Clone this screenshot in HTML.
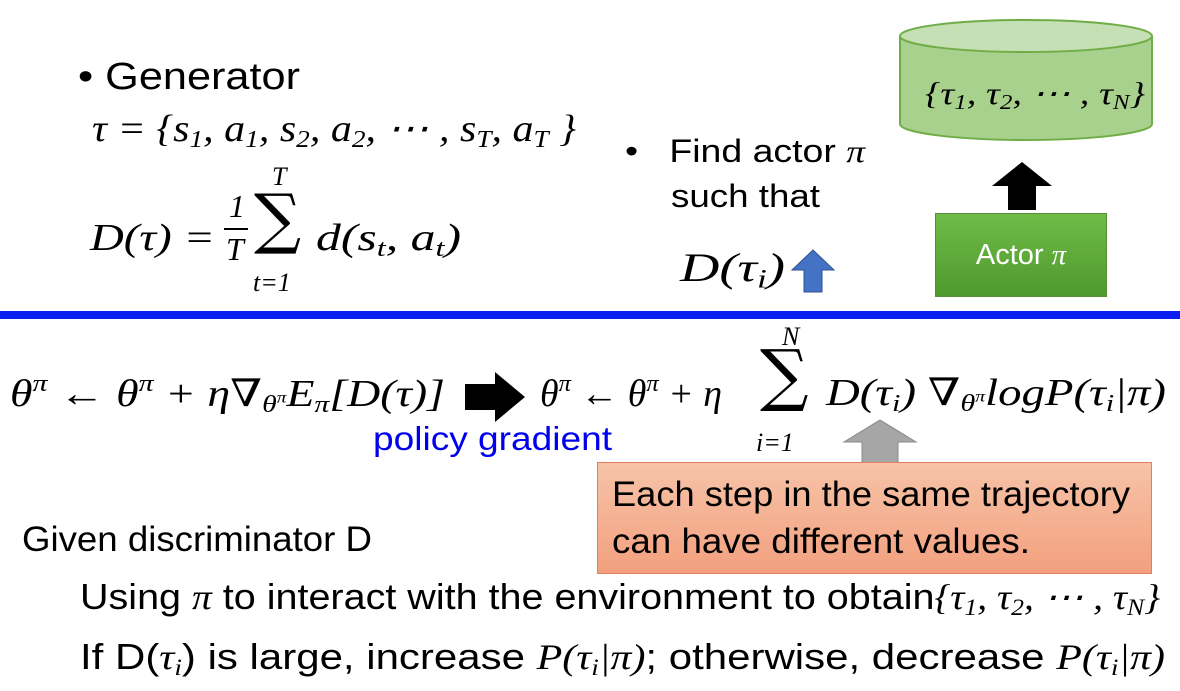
<!DOCTYPE html>
<html><head><meta charset="utf-8"><style>
body{margin:0;width:1180px;height:691px;background:#fff;position:relative;overflow:hidden;font-family:"Liberation Sans",sans-serif;}
.a{position:absolute;white-space:nowrap;transform-origin:0 0;}
.m{font-family:"Liberation Serif","DejaVu Serif",serif;font-style:italic;}
.s{font-family:"Liberation Sans",sans-serif;}
sub{font-size:65%;vertical-align:-0.25em;}
sup{font-size:65%;vertical-align:0.6em;}
</style></head><body>
<div class="a s fit" style="left:78px;top:56px;font-size:38px;--w:222;">• Generator</div>
<div class="a m fit" style="left:92px;top:106px;font-size:38px;--w:484;">τ = {s<sub>1</sub>, a<sub>1</sub>, s<sub>2</sub>, a<sub>2</sub>, ⋯ , s<sub>T</sub>, a<sub>T</sub> }</div>
<div class="a m fit" style="left:90px;top:216px;font-size:38px;--w:125;">D(τ) =</div>
<div class="a m" style="left:229px;top:188px;font-size:32px;">1</div>
<div style="position:absolute;left:224px;top:228px;width:24px;height:2px;background:#000"></div>
<div class="a m" style="left:226px;top:231px;font-size:32px;">T</div>
<div class="a m" style="left:272px;top:162px;font-size:26px;">T</div>
<div class="a" style="left:254px;top:180px;font-size:66px;font-family:'DejaVu Serif',serif;">∑</div>
<div class="a m" style="left:253px;top:268px;font-size:26px;">t=1</div>
<div class="a m fit" style="left:316px;top:216px;font-size:38px;--w:145;">d(s<sub>t</sub>, a<sub>t</sub>)</div>

<div class="a s fit" style="left:625px;top:133px;font-size:32px;--w:240;">•&nbsp;&nbsp; Find actor <span class="m">π</span></div>
<div class="a s fit" style="left:671px;top:178px;font-size:32px;--w:149;">such that</div>
<div class="a m fit" style="left:680px;top:244px;font-size:40px;--w:105;">D(τ<sub>i</sub>)</div>
<svg style="position:absolute;left:790px;top:248px" width="46" height="46"><polygon points="23,2 44,22 32,22 32,44 14,44 14,22 2,22" fill="#4472c4" stroke="#2f528f" stroke-width="1"/></svg>

<svg style="position:absolute;left:898px;top:18px" width="256" height="130">
<path d="M2,18 L2,106 A126,16 0 0 0 254,106 L254,18" fill="#a9d18e" stroke="#70ad47" stroke-width="2"/>
<ellipse cx="128" cy="18" rx="126" ry="16" fill="#c5e0b4" stroke="#70ad47" stroke-width="2"/>
</svg>
<div class="a m fit" style="left:925px;top:74px;font-size:32px;--w:220;">{τ<sub>1</sub>, τ<sub>2</sub>, ⋯ , τ<sub>N</sub>}</div>
<svg style="position:absolute;left:990px;top:160px" width="64" height="52"><polygon points="32,2 62,26 46,26 46,50 18,50 18,26 2,26" fill="#000"/></svg>
<div style="position:absolute;left:935px;top:213px;width:170px;height:82px;background:linear-gradient(#6fbb48,#4f9a2c);border:1px solid #5a8f3a;color:#fff;font-size:29px;line-height:82px;text-align:center;">Actor <span class="m">π</span></div>

<div style="position:absolute;left:0;top:311px;width:1180px;height:8px;background:#0a1ef0"></div>

<div class="a m fit" style="left:10px;top:370px;font-size:38px;--w:435;">θ<sup>π</sup> ← θ<sup>π</sup> + η∇<sub>θ<sup>π</sup></sub>E<sub>π</sub>[D(τ)]</div>
<svg style="position:absolute;left:463px;top:370px" width="64" height="54"><polygon points="2,14 32,14 32,2 62,27 32,52 32,40 2,40" fill="#000"/></svg>
<div class="a s fit" style="left:373px;top:420px;font-size:33px;color:#0000ee;--w:239;">policy gradient</div>
<div class="a m fit" style="left:540px;top:370px;font-size:38px;--w:182;">θ<sup>π</sup> ← θ<sup>π</sup> + η</div>
<div class="a m" style="left:782px;top:322px;font-size:26px;">N</div>
<div class="a" style="left:760px;top:336px;font-size:68px;font-family:'DejaVu Serif',serif;">∑</div>
<div class="a m" style="left:756px;top:428px;font-size:26px;">i=1</div>
<div class="a m fit" style="left:826px;top:370px;font-size:38px;--w:340;">D(τ<sub>i</sub>) ∇<sub>θ<sup>π</sup></sub>logP(τ<sub>i</sub>|π)</div>
<svg style="position:absolute;left:842px;top:418px" width="76" height="48"><polygon points="38,2 74,24 56,24 56,46 20,46 20,24 2,24" fill="#a6a6a6" stroke="#888"/></svg>
<div style="position:absolute;left:597px;top:462px;width:553px;height:110px;background:linear-gradient(#f7c3a8,#f2a07e);border:1px solid #e08060;"></div>
<div class="a s fit" style="left:612px;top:475px;font-size:35px;--w:518;">Each step in the same trajectory</div>
<div class="a s fit" style="left:612px;top:522px;font-size:35px;--w:418;">can have different values.</div>

<div class="a s fit" style="left:22px;top:520px;font-size:35px;--w:350;">Given discriminator D</div>
<div class="a s fit" style="left:80px;top:576px;font-size:36px;--w:1080;">Using <span class="m">π</span> to interact with the environment to obtain<span class="m">{τ<sub>1</sub>, τ<sub>2</sub>, ⋯ , τ<sub>N</sub>}</span></div>
<div class="a s fit" style="left:80px;top:636px;font-size:36px;--w:1085;">If D(<span class="m">τ<sub>i</sub></span>) is large, increase <span class="m">P(τ<sub>i</sub>|π)</span>; otherwise, decrease <span class="m">P(τ<sub>i</sub>|π)</span></div>
<script>
document.querySelectorAll('.fit').forEach(function(e){
  var w=parseFloat(getComputedStyle(e).getPropertyValue('--w'));
  var cw=e.getBoundingClientRect().width;
  if(w&&cw)e.style.transform='scaleX('+(w/cw)+')';
});
</script>
</body></html>
